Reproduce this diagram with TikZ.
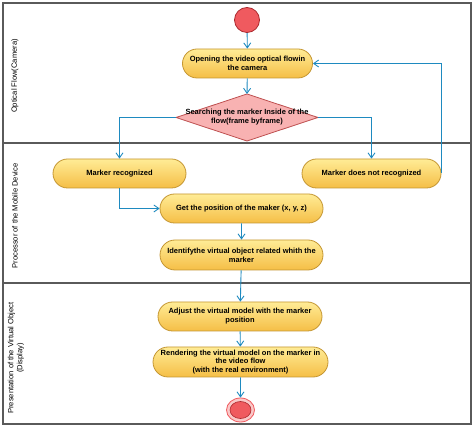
\documentclass[tikz,border=0pt]{standalone}
\usepackage{fontspec}
\setmainfont{Liberation Sans}
\usetikzlibrary{arrows.meta,shapes.misc,shapes.geometric}
\definecolor{flowblue}{RGB}{30,138,192}
\definecolor{boxtop}{RGB}{255,236,150}
\definecolor{boxbot}{RGB}{245,190,70}
\definecolor{boxline}{RGB}{196,150,50}
\definecolor{diafill}{RGB}{248,178,178}
\definecolor{dialine}{RGB}{190,80,80}
\definecolor{redfill}{RGB}{240,90,95}
\definecolor{redline}{RGB}{170,40,45}
\definecolor{ringfill}{RGB}{250,200,200}
\definecolor{laneline}{RGB}{90,90,90}
\begin{document}
\begin{tikzpicture}[x=1pt,y=-1pt,
  act/.style={rounded rectangle, draw=boxline, line width=0.8pt,
    top color=boxtop, bottom color=boxbot, minimum height=29pt,
    inner sep=1pt, align=center, font=\fontsize{7.5}{9}\selectfont\bfseries},
  arr/.style={draw=flowblue, line width=0.9pt, -{Straight Barb[length=5pt,width=7pt]}},
  lanelbl/.style={rotate=90, align=center, font=\fontsize{7.6}{9}\selectfont},
  lane/.style={draw=laneline, line width=1.3pt}]
\useasboundingbox (0,0) rectangle (474,427);
\fill[white] (0,0) rectangle (474,427);
% lanes
\draw[lane] (3,3) rectangle (471,424);
\draw[lane] (3,143) -- (471,143);
\draw[lane] (3,283) -- (471,283);
\node[lanelbl] (l1) at (15,76) {Optical Flow(Camera)};
\node[lanelbl] (l2) at (15,216) {Processor of the Mobile Device};
\node[lanelbl] (l3) at (16,358) {Presentation of the Virtual Object\\(Display)};
% start
\node[circle, draw=redline, fill=redfill, line width=0.8pt, minimum size=25pt, inner sep=0pt] (start) at (247,20) {};
% activities
\node[act, minimum width=132pt] (b1) at (247.5,63.5) {Opening the video optical flowin\\the camera};
% decision
\coordinate (dc) at (247,117.5);
\coordinate (dt) at (247,94);
\coordinate (db) at (247,141);
\coordinate (dl) at (176,117.5);
\coordinate (dr) at (318,117.5);
\draw[draw=dialine, fill=diafill, line width=0.8pt] (dt) -- (dr) -- (db) -- (dl) -- cycle;
\node[align=center, font=\fontsize{7.5}{9}\selectfont\bfseries] (dec) at (dc) {Searching the marker Inside of the\\flow(frame byframe)};
\node[act, minimum width=135pt] (mr) at (119.5,173.5) {Marker recognized};
\node[act, minimum width=141pt] (mn) at (371.5,173.5) {Marker does not recognized};
\node[act, minimum width=165pt] (gp) at (241.5,208.5) {Get the position of the maker (x, y, z)};
\node[act, minimum width=165pt, minimum height=30pt] (id) at (241.5,255) {Identifythe virtual object related whith the\\marker};
\node[act, minimum width=166pt] (adj) at (240,316.5) {Adjust the virtual model with the marker\\position};
\node[act, minimum width=175pt, minimum height=30pt, inner sep=0pt, font=\fontsize{7.5}{8.6}\selectfont\bfseries] (ren) at (240.5,362) {Rendering the virtual model on the marker in\\the video flow\\(with the real environment)};
% end
\node[ellipse, draw=redfill, fill=ringfill, line width=0.8pt, minimum width=28pt, minimum height=24pt, inner sep=0pt] (fin) at (240.5,410) {};
\node[ellipse, draw=redline, fill=redfill, line width=0.6pt, minimum width=21pt, minimum height=17pt, inner sep=0pt] (fin2) at (fin) {};
% connectors
\draw[arr] (start) -- (b1);
\draw[arr] (b1) -- (dt);
\draw[arr] (dl) -| (mr.north);
\draw[arr] (dr) -| (mn.north);
\draw[arr] (mn.east) |- (b1.east);
\draw[arr] (mr.south) |- (gp.west);
\draw[arr] (gp) -- (id);
\draw[arr] (id) -- (adj);
\draw[arr] (adj) -- (ren);
\draw[arr] (ren) -- (fin);
\end{tikzpicture}
\end{document}
